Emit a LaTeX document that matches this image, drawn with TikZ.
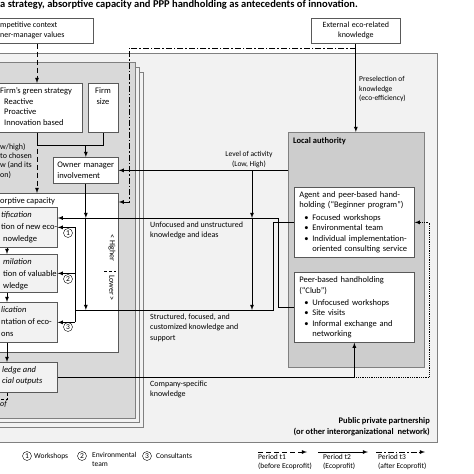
\documentclass[tikz,border=0pt]{standalone}
\usepackage{fontspec}
\setmainfont{Carlito}
\usepackage{tikz}
\usetikzlibrary{arrows,shapes,positioning}

\definecolor{pppgray}{HTML}{F2F2F2}
\definecolor{firmgray}{HTML}{D9D9D9}
\definecolor{lagray}{HTML}{CDCDCD}
\definecolor{framegray}{HTML}{808080}
\definecolor{boxgray}{HTML}{595959}
\newcommand{\itembul}{\makebox[13pt][l]{\hspace{5pt}\textbullet}}

\begin{document}
\begin{tikzpicture}[x=1pt, y=-1pt,
    box/.style={draw=boxgray, fill=white, line width=0.7pt, inner sep=0pt, anchor=north west},
    subbox/.style={box, fill=pppgray},
    layer/.style={draw=framegray, line width=0.7pt},
    txt/.style={inner sep=0pt, align=left, anchor=north west, font=\fontsize{8.5}{10.5}\selectfont},
    lbl/.style={inner sep=0pt, align=left, anchor=north west, font=\fontsize{8}{10}\selectfont},
    small/.style={inner sep=0pt, align=left, anchor=north west, font=\fontsize{7.5}{9.5}\selectfont},
    num/.style={draw, circle, inner sep=0pt, minimum size=9pt, font=\fontsize{7.5}{9}\selectfont},
    conn/.style={line width=0.8pt},
    arr/.style={conn, -latex},
    pone/.style={arr, dash pattern=on 5pt off 3pt},
    pthree/.style={arr, dash pattern=on 6pt off 2pt on 1.5pt off 2pt}]
  \useasboundingbox (0,0) rectangle (474,474);
  \clip (0,0) rectangle (474,474);

  % network and firm layers
  \draw[layer, fill=pppgray] (-20,53) rectangle (437,442); % PPP
  \draw[layer, fill=pppgray] (-20,72) rectangle (143,427); % t3
  \draw[layer, fill=pppgray] (-20,67) rectangle (139,422); % t2
  \draw[layer, fill=firmgray] (-20,62) rectangle (135,418); % t1

  \node[inner sep=0pt, anchor=north west, font=\fontsize{10.5}{12}\bfseries] (title) at (0,0)
    {a strategy, absorptive capacity and PPP handholding as antecedents of innovation.};

  % firm side
  \node[box, minimum width=113pt, minimum height=25pt] (context) at (-20,18) {};
  \node[lbl] (contexttxt) at (0,21.5) {mpetitive context\\ner-manager values};
  \node[box, minimum width=102pt, minimum height=49pt] (green) at (-20,83) {};
  \node[txt] (greentxt) at (0,87.5) {Firm's green strategy\\\hspace*{4pt}Reactive\\\hspace*{4pt}Proactive\\\hspace*{4pt}Innovation based};
  \node[box, minimum width=30pt, minimum height=49pt] (size) at (88,83) {};
  \node[txt, anchor=north, align=center] (sizetxt) at (103,87.5) {Firm\\size};
  \node[box, minimum width=65pt, minimum height=26pt, text width=57pt, align=left,
        inner xsep=4pt, font=\fontsize{8.5}{10.5}\selectfont] (owner) at (53,157) {Owner manager\\involvement};
  \node[lbl, font=\fontsize{8}{9.2}\selectfont] (stratlbl) at (0,143.5) {w/high)\\to chosen\\w (and its\\on)};

  \node[box, minimum width=138pt, minimum height=159pt] (absorp) at (-20,193) {};
  \node[txt] (absorptxt) at (0,197.5) {orptive capacity};
  \node[subbox, minimum width=77pt, minimum height=40pt] (ident) at (-20,207) {};
  \node[txt, font=\fontsize{8.5}{12}\selectfont] (identtxt) at (1,211.5) {\textit{tification}\\tion of new eco-\\\hspace*{2pt}nowledge};
  \node[subbox, minimum width=77pt, minimum height=38pt] (assim) at (-20,254) {};
  \node[txt, font=\fontsize{8.5}{12}\selectfont] (assimtxt) at (3,258.5) {\textit{milation}\\tion of valuable\\wledge};
  \node[subbox, minimum width=77pt, minimum height=40pt] (appl) at (-20,302) {};
  \node[txt, font=\fontsize{8.5}{12}\selectfont] (appltxt) at (1,306.5) {\textit{lication}\\ntation of eco-\\ons};
  \node[subbox, minimum width=77pt, minimum height=30pt] (outputs) at (-20,362) {};
  \node[txt, font=\fontsize{8.5}{11}\itshape] (outputstxt) at (2,366.5) {ledge and\\cial outputs};
  \node[lbl, font=\fontsize{8}{10}\itshape] (oftxt) at (0,401) {of};

  \node[lbl, rotate=-90, anchor=center] (higher) at (112,248) {< Higher};
  \node[lbl, rotate=-90, anchor=center] (lower) at (112,288) {Lower >};
  \coordinate (tick) at (104,271);
  \draw[conn, dash pattern=on 3pt off 2pt] (tick) -- ++(12,0);

  % local authority side
  \node[box, minimum width=89pt, minimum height=25pt, text width=85pt, align=center,
        font=\fontsize{8}{10}\selectfont] (ext) at (311,18) {External eco-related\\knowledge};
  \node[box, fill=lagray, draw=framegray, minimum width=136pt, minimum height=235pt] (la) at (288,132) {};
  \node[txt, font=\fontsize{8.5}{10.5}\bfseries] (latxt) at (293,137.5) {Local authority};
  \node[box, minimum width=120pt, minimum height=70pt, text width=110pt, align=left, inner xsep=5pt,
        font=\fontsize{8.5}{10.5}\selectfont] (agent) at (294,187)
    {Agent and peer-based hand-\\holding (“Beginner program”)\\[2pt]
     \itembul Focused workshops\\\itembul Environmental team\\\itembul Individual implementation-\\\hspace*{13pt}oriented consulting service};
  \node[box, minimum width=120pt, minimum height=70pt, text width=110pt, align=left, inner xsep=5pt,
        font=\fontsize{8.5}{10.5}\selectfont] (club) at (294,272)
    {Peer-based handholding\\(“Club”)\\[1.5pt]
     \itembul Unfocused workshops\\\itembul Site visits\\\itembul Informal exchange and\\\hspace*{13pt}networking};

  \node[small, anchor=north, align=center] (actlbl) at (249,151.5) {Level of activity\\(Low, High)};
  \node[small] (prelbl) at (359,76.5) {Preselection of\\knowledge\\(eco-efficiency)};
  \node[lbl] (unflbl) at (150,221.5) {Unfocused and unstructured\\knowledge and ideas};
  \node[lbl, font=\fontsize{8}{10.5}\selectfont] (strlbl) at (150,313.5) {Structured, focused, and\\customized knowledge and\\support};
  \node[lbl] (complbl) at (150,380.5) {Company-specific\\knowledge};
  \node[inner sep=0pt, anchor=north east, align=right, font=\fontsize{8.5}{10.5}\bfseries] (ppplbl) at (430,417.5)
    {Public private partnership\\(or other interorganizational~ network)};

  % helper positions
  \coordinate (dashx) at (37,0);
  \coordinate (flowx) at (7,0);
  \coordinate (hubx) at (75,0);
  \coordinate (act) at (252,170);
  \coordinate (unfy) at (0,218);
  \coordinate (stry) at (0,310);
  \coordinate (t3x) at (129,48);
  \coordinate (dotx) at (429,0);

  % period t1
  \draw[pone] (context.south -| dashx) -- (green.north -| dashx);
  \draw[pone] (green.south -| dashx) -- (absorp.north -| dashx);
  \draw[conn, dash pattern=on 3pt off 2pt] (outputs.south -| flowx) |- ++(-12,7);

  % firm internals
  \draw[conn] (green.south -| dashx) -- ++(0,13) -| (size.south);
  \draw[arr] (owner.north |- 0,145) -- (owner.north);
  \draw[arr] (ident.south -| flowx) -- (assim.north -| flowx);
  \draw[arr] (assim.south -| flowx) -- (appl.north -| flowx);
  \draw[arr] (appl.south -| flowx) -- (outputs.north -| flowx);

  % period t2
  \draw[arr] (ext.south) -- (la.north -| ext.south);
  \draw[arr] (la.west |- owner.east) -- (owner.east);
  \draw[arr] (act) -- (act |- unfy);
  \draw[arr] (act |- unfy) -- (act |- stry);
  \draw[arr] (owner.south) -- (owner.south |- unfy);
  \draw[arr] (owner.south |- unfy) -- (owner.south |- stry);
  \draw[arr] (club.west) -| (278,218) -- (ident.east |- unfy);
  \draw[conn] (agent.west) -| (273,310) -- (hubx |- stry);
  \draw[conn] (hubx |- ident.east) -- (hubx |- appl.east);
  \foreach \step in {ident,assim,appl}
    \draw[arr] (hubx |- \step.east) -- (\step.east);
  \draw[arr] (outputs.east) -| (club.south);
  \draw[arr, densely dotted] (club.south |- outputs.east) -| (dotx |- agent.east) -- (agent.east);

  \node[num] (n1) at (68,233) {1};
  \node[num] (n2) at (68,279) {2};
  \node[num] (n3) at (68,327) {3};

  % period t3
  \draw[pthree] (ext.south |- t3x) -- (t3x) |- (absorp.east |- 0,202);

  % legend
  \node[num] (leg1) at (27,456) {1};
  \node[small, anchor=west] (leg1txt) at (34,456) {Workshops};
  \node[num] (leg2) at (82,456) {2};
  \node[small, anchor=north west] (leg2txt) at (92,452) {Environmental\\team};
  \node[num] (leg3) at (147,456) {3};
  \node[small, anchor=west] (leg3txt) at (156,456) {Consultants};

  \coordinate (l1a) at (258,452); \coordinate (l1b) at (307,452);
  \coordinate (l2a) at (318,452); \coordinate (l2b) at (368,452);
  \coordinate (l3a) at (376,452); \coordinate (l3b) at (425,452);
  \draw[pone] (l1a) -- (l1b);
  \draw[arr] (l2a) -- (l2b);
  \draw[pthree] (l3a) -- (l3b);
  \node[small] (per1) at (258,454) {Period t1\\(before Ecoprofit)};
  \node[small] (per2) at (323,454) {Period t2\\(Ecoprofit)};
  \node[small] (per3) at (378,454) {Period t3\\(after Ecoprofit)};
\end{tikzpicture}
\end{document}
